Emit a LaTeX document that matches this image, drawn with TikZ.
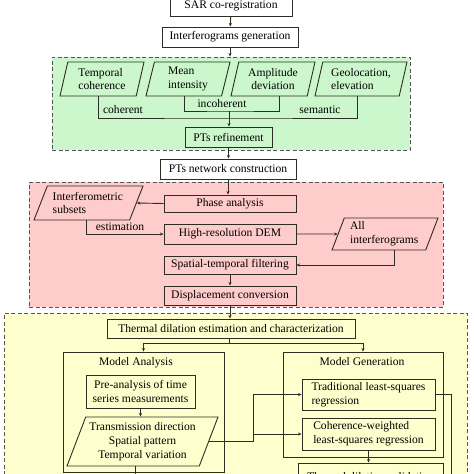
\documentclass[tikz,border=0pt]{standalone}
\usepackage{fontspec}
\setmainfont{Liberation Serif}
\usetikzlibrary{shapes.geometric,arrows.meta,calc}
\definecolor{gfill}{RGB}{204,247,204}
\definecolor{rfill}{RGB}{255,204,204}
\definecolor{yfill}{RGB}{255,255,206}
\definecolor{ln}{RGB}{45,45,35}
\definecolor{dsh}{RGB}{85,85,85}
\begin{document}
\begin{tikzpicture}[x=1pt,y=-1pt,
  font=\fontsize{11.6}{13.8}\selectfont,
  box/.style={draw=ln, line width=0.9pt, rectangle, inner sep=1pt},
  para/.style={draw=ln, line width=0.9pt, trapezium, trapezium stretches body,
     inner sep=1pt, trapezium left angle=#1, trapezium right angle=180-#1},
  region/.style={draw=dsh, line width=0.9pt, dash pattern=on 4pt off 2.5pt, rectangle, inner sep=0pt},
  conn/.style={draw=ln, line width=0.9pt},
  arr/.style={conn, -{Stealth[length=3.5pt,width=3pt]}},
  lbl/.style={inner sep=0pt}
]
\path[use as bounding box] (0,0) rectangle (474,474);
\clip (0,0) rectangle (474,474);
\fill[white] (0,0) rectangle (474,474);

% regions
\node[region, fill=gfill, minimum width=358, minimum height=93] (green) at (231,103.5) {};
\node[region, fill=rfill, minimum width=414, minimum height=125] (red) at (236,244.5) {};
\node[region, fill=yfill, minimum width=463, minimum height=177] (yellow) at (235.5,401.5) {};

% top chain
\node[box, minimum width=122, minimum height=20] (sar) at (231,6) {SAR co-registration};
\node[box, minimum width=136, minimum height=20] (ifg) at (230,37) {Interferograms generation};

% green block
\node[para=72, minimum width=84, minimum height=34, align=left] (tc) at (102,79) {Temporal\\coherence};
\node[para=72, minimum width=84, minimum height=34, align=left] (mi) at (188,79) {Mean\\intensity};
\node[para=72, minimum width=84, minimum height=34, align=center] (ad) at (273,79) {Amplitude\\deviation};
\node[para=72, minimum width=92, minimum height=34, align=left] (geo) at (361,79) {Geolocation,\\elevation};
\coordinate (ji) at (229,111);
\coordinate (jc) at (229,118);
\node[box, minimum width=87, minimum height=20] (ptr) at (228.5,137) {PTs refinement};
\node[lbl] (lc) at (123,110) {coherent};
\node[lbl] (li) at (222,104) {incoherent};
\node[lbl] (ls) at (320,110) {semantic};

\node[box, minimum width=136, minimum height=20] (ptn) at (228,169) {PTs network construction};

% red block
\node[box, minimum width=132, minimum height=17] (pha) at (230,203.5) {Phase analysis};
\node[para=61, minimum width=109, minimum height=34, align=left] (isub) at (88.5,203) {Interferometric\\subsets\hspace*{38pt}};
\node[box, minimum width=132, minimum height=20] (dem) at (230,234) {High-resolution DEM};
\node[para=65, minimum width=106, minimum height=32, align=left] (all) at (385,234) {All\hspace*{55pt}\\interferograms};
\node[box, minimum width=132, minimum height=18] (stf) at (230,265) {Spatial-temporal filtering};
\node[box, minimum width=132, minimum height=19] (dc) at (230,295.5) {Displacement conversion};
\node[lbl] (le) at (120,227) {estimation};

% yellow block
\node[box, minimum width=248, minimum height=19] (thm) at (231,328.5) {Thermal dilation estimation and characterization};
\coordinate (jt) at (229,343);
\node[box, minimum width=161, minimum height=120] (ma) at (143.5,412) {};
\node[lbl] (maT) at (136,363) {Model Analysis};
\node[box, minimum width=109, minimum height=33, align=center] (pre) at (140.5,391.5) {Pre-analysis of time\\series measurements};
\node[para=65, minimum width=151, minimum height=49, align=center] (trans) at (142.5,441.5) {Transmission direction\\Spatial pattern\\Temporal variation};
\node[box, minimum width=160, minimum height=105] (mg) at (363,404.5) {};
\node[lbl] (mgT) at (362,362) {Model Generation};
\node[box, minimum width=133, minimum height=31, align=left] (trad) at (368.5,394.5) {Traditional least-squares\\regression};
\node[box, minimum width=133, minimum height=32, align=left] (coh) at (368.5,434) {Coherence-weighted\\least-squares regression};
\node[box, minimum width=145, minimum height=28] (val) at (370.5,477) {Thermal dilation validation};
\coordinate (jm) at (253,441.5);
\coordinate (tr) at (451,490);
\coordinate (tb) at (135,490);

% connectors
\draw[arr] (sar) -- (ifg);
\draw[arr] (ifg.south) -- (ifg.south |- green.north);
\draw[conn] ($(tc.south)+(-4,0)$) |- (jc) -| ($(geo.south)+(-4,0)$);
\draw[conn] ($(mi.south)+(-4,0)$) |- (ji) -| ($(ad.south)+(6,0)$);
\draw[arr] (ji) -- (ji |- ptr.north);
\draw[arr] (ptr.south) -- (ptr.south |- ptn.north);
\draw[arr] (ptn.south) -- (ptn.south |- pha.north);
\draw[arr] (pha.west) -- (isub.east);
\draw[arr] ($(isub.south)+(-2,0)$) |- (dem.west);
\draw[arr] (dem.east) -- (all.west);
\draw[arr] ($(all.south)+(9,0)$) |- (stf.east);
\draw[arr] (stf) -- (dc);
\draw[arr] (dc.south) -- (dc.south |- thm.north);
\draw[conn] (jt |- thm.south) -- (jt);
\draw[arr] (jt) -| (ma.north);
\draw[arr] (jt) -| (mg.north);
\draw[arr] (pre.south) -- (pre.south |- trans.north);
\draw[conn] (trans.east) -- (jm);
\draw[arr] (jm) |- (trad.west);
\draw[arr] (jm |- coh.west) -- (coh.west);
\draw[conn] (trad.east) -| (tr);
\draw[arr] (coh.south) -- (coh.south |- val.north);
\draw[conn] (trans.south -| tb) -- (tb);
\end{tikzpicture}
\end{document}
